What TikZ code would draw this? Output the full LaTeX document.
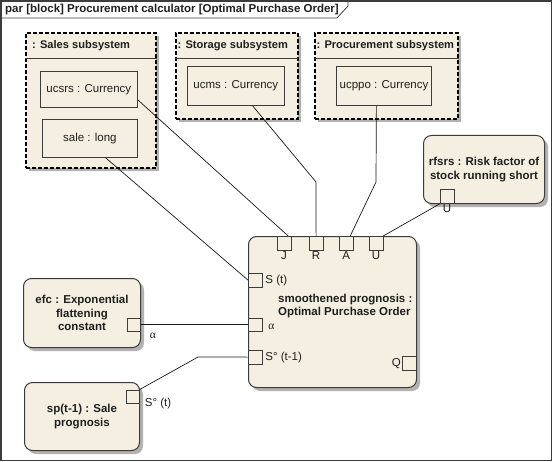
\documentclass[tikz,border=0pt]{standalone}
\usepackage{fontspec}
\setmainfont{Liberation Sans}
\newfontfamily\greekfont{Liberation Serif}
\usetikzlibrary{shadows}

\definecolor{partfill}{RGB}{244,239,224}
\definecolor{partdraw}{RGB}{60,60,60}
\definecolor{shadowgray}{RGB}{178,178,178}

\tikzset{
  every node/.style={font=\fontsize{11.5}{13}\selectfont, text=black!88},
  castshadow/.style={drop shadow={shadow xshift=3.5pt, shadow yshift=-3.5pt, fill=shadowgray, opacity=1}},
  part/.style={castshadow, draw=partdraw, fill=partfill, line width=1pt, rounded corners=8pt,
    anchor=north west, align=center, inner sep=2pt, font=\bfseries\fontsize{11.5}{13.5}\selectfont},
  subsys/.style={castshadow, draw=black, fill=partfill, dash pattern=on 4pt off 2pt,
    line width=1.6pt, anchor=north west},
  ttl/.style={font=\bfseries\fontsize{11.5}{13}\selectfont, anchor=west, inner sep=0pt},
  subttl/.style={ttl, font=\bfseries\fontsize{11.1}{13}\selectfont},
  prop/.style={draw=partdraw, fill=partfill, line width=0.7pt, anchor=north west},
  port/.style={draw=partdraw, fill=partfill, line width=0.7pt, minimum size=13.5pt,
    inner sep=0pt, anchor=north west},
  lbl/.style={inner sep=1pt},
  conn/.style={draw=black!90, line width=0.7pt},
}

\begin{document}
\begin{tikzpicture}[x=1pt, y=-1pt]
  \useasboundingbox (0,0) rectangle (553,462);

  % --- frame ---
  \draw[draw=partdraw, line width=1.5pt] (1,1) rectangle (551.5,460.5);
  \node[ttl] (frametitle) at (5,10) {par [block] Procurement calculator [Optimal Purchase Order]};
  \draw[draw=partdraw, line width=0.8pt] (1,18) -- (337,18) -- (348,6) -- (348,1);

  % --- subsystems with their properties ---
  \node[subsys, minimum width=130pt, minimum height=135pt] (sales) at (25,32) {};
  \node[subttl] (salesttl) at (32,46) {: Sales subsystem};
  \draw[partdraw, line width=0.7pt] ([yshift=-26pt]sales.north west) -- ([yshift=-26pt]sales.north east);
  \node[prop, minimum width=97pt, minimum height=36pt] (ucsrs) at (40,71) {ucsrs : Currency};
  \node[prop, minimum width=95pt, minimum height=38pt] (sale) at (42,119) {sale : long};

  \node[subsys, minimum width=122pt, minimum height=86pt] (storage) at (175,32) {};
  \node[subttl] (storagettl) at (177.5,46) {: Storage subsystem};
  \draw[partdraw, line width=0.7pt] ([yshift=-26pt]storage.north west) -- ([yshift=-26pt]storage.north east);
  \node[prop, minimum width=97pt, minimum height=39pt] (ucms) at (187,66) {ucms : Currency};

  \node[subsys, minimum width=143pt, minimum height=86pt] (procure) at (314,32) {};
  \node[subttl] (procurettl) at (316.5,46) {: Procurement subsystem};
  \draw[partdraw, line width=0.7pt] ([yshift=-26pt]procure.north west) -- ([yshift=-26pt]procure.north east);
  \node[prop, minimum width=95pt, minimum height=39pt] (ucppo) at (336,66) {ucppo : Currency};

  % --- parts ---
  \node[part, minimum width=168pt, minimum height=151pt] (prognosis) at (248,236) {};
  \node[anchor=west, align=left, inner sep=0pt, font=\bfseries\fontsize{11.5}{13}\selectfont]
    (prognosistext) at (278,306) {smoothened prognosis :\\Optimal Purchase Order};
  \node[part, minimum width=121pt, minimum height=68pt] (rfsrs) at (423,135) {rfsrs : Risk factor of\\stock running short};
  \node[part, minimum width=117pt, minimum height=69pt] (efc) at (23,278) {efc : Exponential\\flattening\\constant};
  \node[part, minimum width=115pt, minimum height=68pt] (salepro) at (24,382) {sp(t-1) : Sale\\prognosis};

  % --- ports ---
  \node[port] (pJ) at (277,236) {};
  \node[port] (pR) at (309,236) {};
  \node[port] (pA) at (339,236) {};
  \node[port] (pU) at (369,236) {};
  \node[port] (pS) at (248,273) {};
  \node[port] (pAlpha) at (248,317.5) {};
  \node[port] (pSprev) at (248,350) {};
  \node[port] (pQ) at (402,356) {};
  \node[port] (pRisk) at (440,189.5) {};
  \node[port] (pEfc) at (126.5,317.5) {};
  \node[port] (pSale) at (125.5,389.5) {};

  % port labels
  \node[lbl, below] (lJ) at (pJ.south) {J};
  \node[lbl, below] (lR) at (pR.south) {R};
  \node[lbl, below] (lA) at (pA.south) {A};
  \node[lbl, below] (lU) at (pU.south) {U};
  \node[lbl, anchor=west, xshift=2pt] (lS) at (pS.east) {S (t)};
  \node[lbl, anchor=west, xshift=5pt, yshift=-2pt] (lAlpha) at (pAlpha.east) {\greekfont α};
  \node[lbl, anchor=west, xshift=2pt] (lSprev) at (pSprev.east) {S° (t-1)};
  \node[lbl, anchor=east, yshift=-0.5pt] (lQ) at (pQ.west) {Q};
  \node[lbl, below] (lRisk) at (pRisk.south) {U};
  \node[lbl, anchor=north west, xshift=8pt] (lEfc) at (pEfc.south east) {\greekfont α};
  \node[lbl, anchor=west, xshift=4pt] (lSale) at (pSale.south east) {S° (t)};

  % --- connectors ---
  \coordinate (rbend) at (316,182);
  \coordinate (abend) at (376,182);
  \coordinate (sbend) at (198,357);
  \draw[conn] (ucsrs.-12) -- (pJ.60);
  \draw[conn] (sale.-51) -- (pS.west);
  \draw[conn] (ucms.-50) -- (rbend) -- (pR.north);
  \draw[conn] (ucppo.-111) -- (abend) -- (pA.60);
  \draw[conn] (pU.north east) -- (pRisk.south west);
  \draw[conn] (pEfc.east) -- (pAlpha.west);
  \draw[conn] (pSale.north east) -- (sbend) -- (pSprev.west);

\end{tikzpicture}
\end{document}
